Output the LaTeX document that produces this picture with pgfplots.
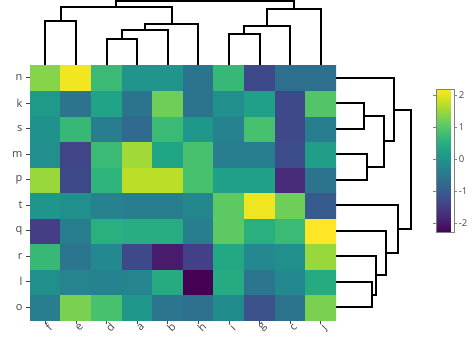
\documentclass[border=0pt]{standalone}
\usepackage{pgfplots}
\pgfplotsset{compat=1.18}
\usepackage{fontspec}
\setmainfont{Open Sans}
\definecolor{tickgrey}{HTML}{444444}
\tikzset{dend/.style={black, line width=2pt, line join=miter, mark=none, solid}}
\begin{document}
\begin{tikzpicture}
\path[use as bounding box] (0,0) rectangle (474pt,354pt);
% heatmap
\begin{axis}[
  at={(30pt,34pt)}, anchor=south west, scale only axis,
  width=306pt, height=255pt,
  xmin=-0.5, xmax=9.5, ymin=-0.5, ymax=9.5,
  axis x line*=bottom, axis y line*=left,
  axis line style={tickgrey, line width=0.6pt, -},
  xtick={0,...,9}, xticklabels={f,e,d,a,b,h,i,g,c,j},
  ytick={0,...,9}, yticklabels={o,l,r,q,t,p,m,s,k,n},
  tick align=outside, major tick length=4pt,
  tick style={tickgrey, line width=0.6pt},
  tick label style={font=\fontsize{11}{12}\selectfont, text=tickgrey},
  xticklabel style={rotate=45, anchor=center, yshift=-5pt},
  colormap/viridis,
  point meta min=-2.31, point meta max=2.18,
  colorbar,
  colorbar style={
    at={(parent axis.north east)}, anchor=north west,
    xshift=91.7pt, yshift=-24.3pt,
    scale only axis, width=18pt, height=143.4pt,
    ytick={-2,-1,0,1,2},
    tick align=outside, major tick length=3pt,
    tick style={gray, line width=0.5pt},
    axis line style={gray, line width=0.5pt},
    yticklabel style={font=\fontsize{9.5}{10}\selectfont, text=tickgrey, xshift=-2pt},
    /pgf/number format/assume math mode=true,
  },
]
\addplot[matrix plot*, mesh/cols=10, point meta=explicit] table[meta=c] {
x y c
0 0 -0.42
1 0 1.28
2 0 0.88
3 0 0.07
4 0 -0.56
5 0 -0.65
6 0 -0.15
7 0 -1.19
8 0 -0.60
9 0 1.28
0 1 -0.07
1 1 -0.29
2 1 -0.33
3 1 -0.29
4 1 0.43
5 1 -2.31
6 1 0.43
7 1 -0.56
8 1 -0.20
9 1 0.43
0 2 0.70
1 2 -0.56
2 2 -0.20
3 2 -1.32
4 2 -1.99
5 2 -1.46
6 2 0.38
7 2 -0.20
8 2 -0.07
9 2 1.50
0 3 -1.50
1 3 -0.42
2 3 0.52
3 3 0.47
4 3 0.47
5 3 -0.42
6 3 1.06
7 3 0.52
8 3 0.74
9 3 2.18
0 4 0.02
1 4 -0.07
2 4 -0.33
3 4 -0.42
4 4 -0.42
5 4 -0.24
6 4 1.06
7 4 2.09
8 4 1.19
9 4 -1.05
0 5 1.50
1 5 -1.32
2 5 0.61
3 5 1.73
4 5 1.73
5 5 0.88
6 5 0.25
7 5 0.25
8 5 -1.77
9 5 -0.60
0 6 -0.11
1 6 -1.41
2 6 0.74
3 6 1.55
4 6 0.34
5 6 0.88
6 6 -0.42
7 6 -0.42
8 6 -1.28
9 6 0.20
0 7 -0.02
1 7 0.70
2 7 -0.42
3 7 -0.78
4 7 0.74
5 7 0.07
6 7 -0.33
7 7 0.88
8 7 -1.32
9 7 -0.42
0 8 0.11
1 8 -0.60
2 8 0.29
3 8 -0.60
4 8 1.19
5 8 -0.60
6 8 -0.07
7 8 0.25
8 8 -1.32
9 8 0.97
0 9 1.37
1 9 2.10
2 9 0.74
3 9 0.02
4 9 0.02
5 9 -0.60
6 9 0.70
7 9 -1.32
8 9 -0.69
9 9 -0.69
};
\end{axis}
% top dendrogram
\begin{axis}[
  at={(30pt,289pt)}, anchor=south west, scale only axis,
  width=306pt, height=65pt,
  xmin=-0.5, xmax=9.5, ymin=0, ymax=65,
  axis lines=none, clip=false,
]
\addplot[dend] coordinates {(0,0)(0,43.7)(1,43.7)(1,0)};
\addplot[dend] coordinates {(2,0)(2,25.7)(3,25.7)(3,0)};
\addplot[dend] coordinates {(2.5,25.7)(2.5,35)(4,35)(4,0)};
\addplot[dend] coordinates {(3.25,35)(3.25,41)(5,41)(5,0)};
\addplot[dend] coordinates {(0.5,43.7)(0.5,58.3)(4.125,58.3)(4.125,41)};
\addplot[dend] coordinates {(6,0)(6,31)(7,31)(7,0)};
\addplot[dend] coordinates {(6.5,31)(6.5,39)(8,39)(8,0)};
\addplot[dend] coordinates {(7.25,39)(7.25,55.7)(9,55.7)(9,0)};
\addplot[dend] coordinates {(2.3125,58.3)(2.3125,64.3)(8.125,64.3)(8.125,55.7)};
\end{axis}
% right dendrogram
\begin{axis}[
  at={(336pt,34pt)}, anchor=south west, scale only axis,
  width=80pt, height=255pt,
  xmin=0, xmax=80, ymin=-0.5, ymax=9.5,
  axis lines=none, clip=false,
]
\addplot[dend] coordinates {(0,8)(28,8)(28,7)(0,7)};
\addplot[dend] coordinates {(0,6)(30.7,6)(30.7,5)(0,5)};
\addplot[dend] coordinates {(28,7.5)(48,7.5)(48,5.5)(30.7,5.5)};
\addplot[dend] coordinates {(0,9)(58,9)(58,6.5)(48,6.5)};
\addplot[dend] coordinates {(0,1)(35.7,1)(35.7,0)(0,0)};
\addplot[dend] coordinates {(0,2)(39.7,2)(39.7,0.5)(35.7,0.5)};
\addplot[dend] coordinates {(0,3)(49.7,3)(49.7,1.25)(39.7,1.25)};
\addplot[dend] coordinates {(0,4)(61.7,4)(61.7,2.125)(49.7,2.125)};
\addplot[dend] coordinates {(58,7.75)(75,7.75)(75,3.0625)(61.7,3.0625)};
\end{axis}
\end{tikzpicture}
\end{document}
